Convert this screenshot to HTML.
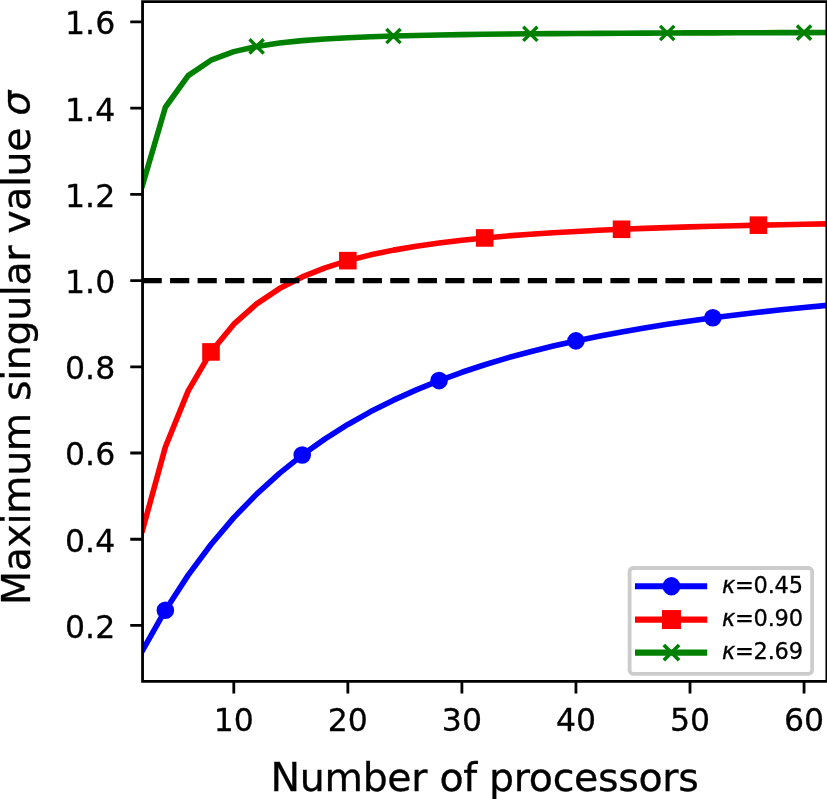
<!DOCTYPE html>
<html><head><meta charset="utf-8"><style>
html,body{margin:0;padding:0;background:#fff;}
body{width:827px;height:799px;overflow:hidden;}
svg{display:block;}
text{stroke:#000;stroke-width:0.3px;}
</style></head><body>
<svg width="827" height="799" viewBox="0 0 827 799">
<defs><clipPath id="ax"><rect x="142.56" y="1.67" width="684.30" height="679.64"/></clipPath></defs>
<rect x="0" y="0" width="827" height="799" fill="#fff"/>
<g clip-path="url(#ax)">
<polyline points="142.56,650.42 165.37,610.24 188.18,575.12 210.99,544.46 233.80,517.63 256.61,494.09 279.42,473.36 302.23,455.06 325.04,438.85 347.85,424.45 370.66,411.61 393.47,400.13 416.28,389.84 439.09,380.59 461.90,372.26 484.71,364.72 507.52,357.90 530.33,351.70 553.14,346.05 575.95,340.90 598.76,336.19 621.57,331.88 644.38,327.92 667.19,324.27 690.00,320.91 712.81,317.81 735.62,314.93 758.43,312.27 781.24,309.81 804.05,307.51 826.86,305.37" fill="none" stroke="#0000ff" stroke-width="5.6" stroke-linejoin="round" stroke-linecap="square"/>
<circle cx="165.37" cy="610.24" r="7.10" fill="#0000ff" stroke="#0000ff" stroke-width="3.4"/>
<circle cx="302.23" cy="455.06" r="7.10" fill="#0000ff" stroke="#0000ff" stroke-width="3.4"/>
<circle cx="439.09" cy="380.59" r="7.10" fill="#0000ff" stroke="#0000ff" stroke-width="3.4"/>
<circle cx="575.95" cy="340.90" r="7.10" fill="#0000ff" stroke="#0000ff" stroke-width="3.4"/>
<circle cx="712.81" cy="317.81" r="7.10" fill="#0000ff" stroke="#0000ff" stroke-width="3.4"/>
<polyline points="142.56,530.06 165.37,446.99 188.18,390.86 210.99,351.93 233.80,324.16 256.61,303.84 279.42,288.60 302.23,276.95 325.04,267.86 347.85,260.65 370.66,254.86 393.47,250.13 416.28,246.23 439.09,242.99 461.90,240.25 484.71,237.93 507.52,235.94 530.33,234.23 553.14,232.74 575.95,231.44 598.76,230.30 621.57,229.29 644.38,228.40 667.19,227.60 690.00,226.89 712.81,226.25 735.62,225.68 758.43,225.16 781.24,224.69 804.05,224.26 826.86,223.86" fill="none" stroke="#ff0000" stroke-width="5.6" stroke-linejoin="round" stroke-linecap="square"/>
<rect x="203.89" y="344.83" width="14.20" height="14.20" fill="#ff0000" stroke="#ff0000" stroke-width="3.4" stroke-linejoin="miter"/>
<rect x="340.75" y="253.55" width="14.20" height="14.20" fill="#ff0000" stroke="#ff0000" stroke-width="3.4" stroke-linejoin="miter"/>
<rect x="477.61" y="230.83" width="14.20" height="14.20" fill="#ff0000" stroke="#ff0000" stroke-width="3.4" stroke-linejoin="miter"/>
<rect x="614.47" y="222.19" width="14.20" height="14.20" fill="#ff0000" stroke="#ff0000" stroke-width="3.4" stroke-linejoin="miter"/>
<rect x="751.33" y="218.06" width="14.20" height="14.20" fill="#ff0000" stroke="#ff0000" stroke-width="3.4" stroke-linejoin="miter"/>
<polyline points="142.56,184.98 165.37,107.26 188.18,75.66 210.99,60.22 233.80,51.64 256.61,46.41 279.42,42.99 302.23,40.65 325.04,38.98 347.85,37.74 370.66,36.79 393.47,36.06 416.28,35.48 439.09,35.01 461.90,34.63 484.71,34.31 507.52,34.05 530.33,33.82 553.14,33.63 575.95,33.47 598.76,33.33 621.57,33.20 644.38,33.09 667.19,33.00 690.00,32.91 712.81,32.84 735.62,32.77 758.43,32.71 781.24,32.65 804.05,32.60 826.86,32.56" fill="none" stroke="#008000" stroke-width="5.6" stroke-linejoin="round" stroke-linecap="square"/>
<path d="M249.51,39.31L263.71,53.51M249.51,53.51L263.71,39.31" stroke="#008000" stroke-width="3.4" fill="none"/>
<path d="M386.37,28.96L400.57,43.16M386.37,43.16L400.57,28.96" stroke="#008000" stroke-width="3.4" fill="none"/>
<path d="M523.23,26.72L537.43,40.92M523.23,40.92L537.43,26.72" stroke="#008000" stroke-width="3.4" fill="none"/>
<path d="M660.09,25.90L674.29,40.10M660.09,40.10L674.29,25.90" stroke="#008000" stroke-width="3.4" fill="none"/>
<path d="M796.95,25.50L811.15,39.70M796.95,39.70L811.15,25.50" stroke="#008000" stroke-width="3.4" fill="none"/>
<line x1="142.56" y1="280.58" x2="826.86" y2="280.58" stroke="#000" stroke-width="5.25" stroke-dasharray="19.2 8.32"/>
</g>
<path d="M142.56,681.31V1.67M826.86,681.31V1.67M142.56,681.31H826.86M142.56,1.67H826.86" stroke="#000" stroke-width="2.8" stroke-linecap="square" fill="none"/>
<path d="M142.56,625.46h-12.3M142.56,539.24h-12.3M142.56,453.02h-12.3M142.56,366.80h-12.3M142.56,280.58h-12.3M142.56,194.36h-12.3M142.56,108.14h-12.3M142.56,21.92h-12.3M233.80,681.31v12.3M347.85,681.31v12.3M461.90,681.31v12.3M575.95,681.31v12.3M690.00,681.31v12.3M804.05,681.31v12.3" stroke="#000" stroke-width="2.8" fill="none"/>
<g font-family="'DejaVu Sans', 'Liberation Sans', sans-serif" font-size="31.5" fill="#000">
<text x="115.20" y="637.84" text-anchor="end">0.2</text>
<text x="115.20" y="551.62" text-anchor="end">0.4</text>
<text x="115.20" y="465.40" text-anchor="end">0.6</text>
<text x="115.20" y="379.18" text-anchor="end">0.8</text>
<text x="115.20" y="292.96" text-anchor="end">1.0</text>
<text x="115.20" y="206.74" text-anchor="end">1.2</text>
<text x="115.20" y="120.52" text-anchor="end">1.4</text>
<text x="115.20" y="34.30" text-anchor="end">1.6</text>
<text x="233.80" y="730.80" text-anchor="middle">10</text>
<text x="347.85" y="730.80" text-anchor="middle">20</text>
<text x="461.90" y="730.80" text-anchor="middle">30</text>
<text x="575.95" y="730.80" text-anchor="middle">40</text>
<text x="690.00" y="730.80" text-anchor="middle">50</text>
<text x="804.05" y="730.80" text-anchor="middle">60</text>
</g>
<text x="484.71" y="791.1" font-family="'DejaVu Sans', 'Liberation Sans', sans-serif" font-size="39.5" text-anchor="middle" textLength="428.3" lengthAdjust="spacing">Number of processors</text>
<text transform="translate(29.5,605.0) rotate(-90)" font-family="'DejaVu Sans', 'Liberation Sans', sans-serif" font-size="39.5" textLength="514.4" lengthAdjust="spacing">Maximum singular value <tspan font-style="oblique" dy="-0.9">σ</tspan></text>
<rect x="629.6" y="568.0" width="182.50" height="105.80" rx="3.5" ry="3.5" fill="#fff" fill-opacity="0.8" stroke="#cccccc" stroke-width="3.8"/>
<line x1="635.0" y1="586.25" x2="707.2" y2="586.25" stroke="#0000ff" stroke-width="6.2"/>
<ellipse cx="671.45" cy="586.25" rx="8.85" ry="9.35" fill="#0000ff"/>
<text x="722.0" y="592.50" font-family="'DejaVu Sans', 'Liberation Sans', sans-serif" font-size="22.5" textLength="81.0" lengthAdjust="spacing"><tspan font-style="oblique">κ</tspan>=0.45</text>
<line x1="635.0" y1="619.55" x2="707.2" y2="619.55" stroke="#ff0000" stroke-width="6.2"/>
<rect x="663.80" y="611.90" width="15.30" height="15.30" fill="#ff0000" stroke="#ff0000" stroke-width="3.7"/>
<text x="722.0" y="625.80" font-family="'DejaVu Sans', 'Liberation Sans', sans-serif" font-size="22.5" textLength="81.0" lengthAdjust="spacing"><tspan font-style="oblique">κ</tspan>=0.90</text>
<line x1="635.0" y1="652.6" x2="707.2" y2="652.6" stroke="#008000" stroke-width="6.2"/>
<path d="M663.80,644.95L679.10,660.25M663.80,660.25L679.10,644.95" stroke="#008000" stroke-width="3.7" fill="none"/>
<text x="722.0" y="658.85" font-family="'DejaVu Sans', 'Liberation Sans', sans-serif" font-size="22.5" textLength="81.0" lengthAdjust="spacing"><tspan font-style="oblique">κ</tspan>=2.69</text>
</svg>
</body></html>
